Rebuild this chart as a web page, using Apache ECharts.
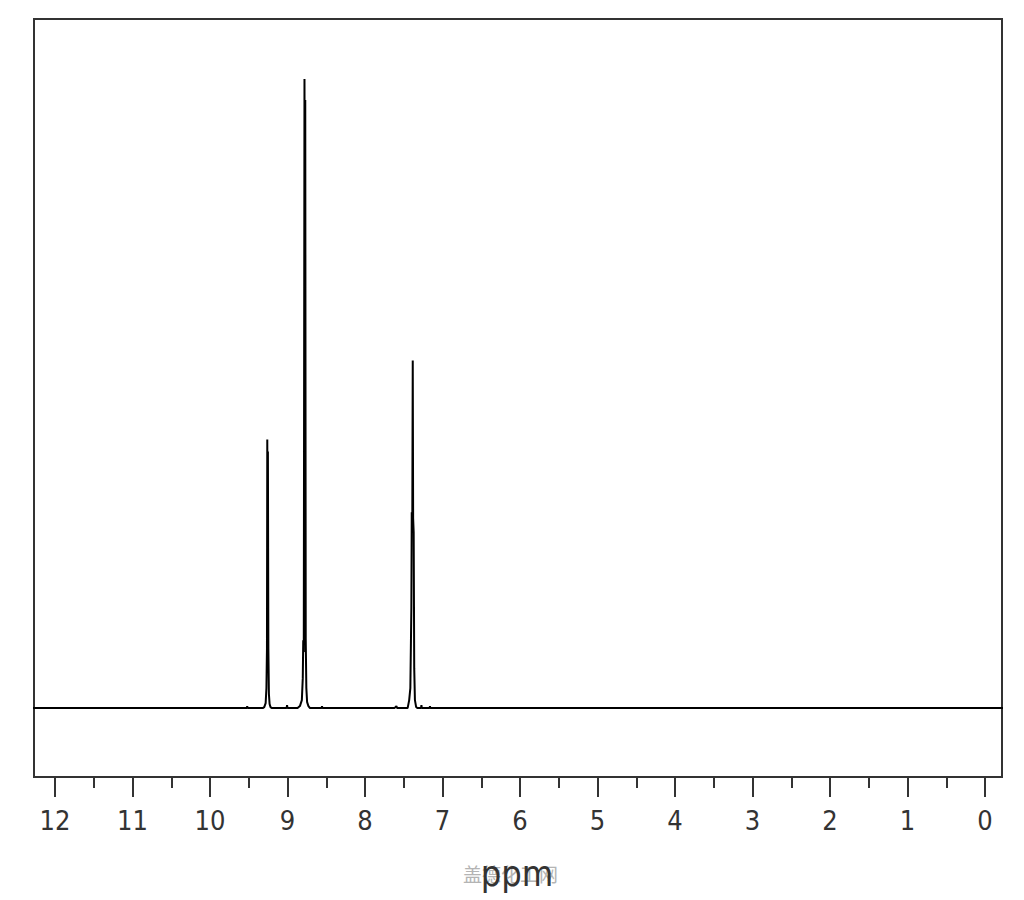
<!DOCTYPE html>
<html><head><meta charset="utf-8">
<script src="https://cdn.jsdelivr.net/npm/echarts@6/dist/echarts.min.js"></script>
<style>html,body{margin:0;padding:0;background:#fff}#c{width:1024px;height:900px}</style>
</head><body><div id="c"></div>
<script>
// Tick positions (ppm)
const majorTicks = [0,1,2,3,4,5,6,7,8,9,10,11,12];
const minorTicks = [0.5,1.5,2.5,3.5,4.5,5.5,6.5,7.5,8.5,9.5,10.5,11.5];
// Spectrum trace: chemical shift (ppm) and intensity (relative)
const ppm = [12.30, 9.60, 9.525, 9.52, 9.515, 9.32, 9.30, 9.282, 9.272, 9.265, 9.261, 9.257, 9.253, 9.247, 9.240, 9.231, 9.22, 9.20,
  9.012, 9.006, 9.000,
  8.87, 8.84, 8.815, 8.803, 8.797, 8.790, 8.781, 8.776, 8.771, 8.765, 8.757, 8.747, 8.73, 8.71,
  8.56, 8.555, 8.55,
  7.62, 7.595, 7.585,
  7.45, 7.43, 7.415, 7.402, 7.397, 7.390, 7.384, 7.379, 7.372, 7.365, 7.356, 7.34, 7.325,
  7.277, 7.272, 7.267, 7.167, 7.162, 7.157, -0.30];
const intensity = [0, 0, 0, 2, 0, 0, 1, 5, 20, 60, 269, 160, 257, 60, 14, 4, 1, 0,
  0, 3, 0,
  0, 2, 8, 30, 68, 56, 630, 420, 609, 70, 20, 6, 2, 0,
  0, 2, 0,
  0, 2, 0,
  0, 8, 20, 100, 196, 185, 348, 190, 176, 40, 8, 1, 0,
  0, 3, 0, 0, 2, 0, 0];
const axisTitle = 'ppm';
const watermark = '盖德化工网';

const trace = ppm.map((p, i) => [p, intensity[i]]);
const digitFont = "'Liberation Sans Narrow', 'DejaVu Sans Condensed', 'Liberation Sans', sans-serif";

const chart = echarts.init(document.getElementById('c'), null, {renderer: 'svg'});
chart.setOption({
  animation: false,
  backgroundColor: '#fff',
  grid: {left: 34, right: 22, top: 19, bottom: 123, show: true, borderColor: '#333', borderWidth: 2, backgroundColor: 'transparent'},
  xAxis: [
    {type: 'value', inverse: true, min: -0.219, max: 12.271, position: 'bottom',
      axisLine: {show: true, onZero: false, lineStyle: {color: '#333', width: 2}},
      axisTick: {show: true, length: 20, customValues: majorTicks, lineStyle: {color: '#333', width: 2}},
      axisLabel: {show: true, customValues: majorTicks, margin: 30, fontSize: 27, color: '#333', fontFamily: digitFont},
      splitLine: {show: false}},
    {type: 'value', inverse: true, min: -0.219, max: 12.271, position: 'bottom',
      axisLine: {show: false, onZero: false},
      axisTick: {show: true, length: 11, customValues: minorTicks, lineStyle: {color: '#333', width: 2}},
      axisLabel: {show: false},
      splitLine: {show: false}}
  ],
  yAxis: {type: 'value', min: -69, max: 690, show: false, splitLine: {show: false}},
  graphic: [
    {type: 'text', left: 463, top: 864, z: 1, style: {text: watermark, fontSize: 19, fill: '#b4b4b4', fontFamily: "'Noto Sans CJK SC', sans-serif"}},
    {type: 'text', x: 517, y: 873, z: 2, style: {text: axisTitle, fontSize: 36, fill: '#333', fontFamily: digitFont, textAlign: 'center', textVerticalAlign: 'middle'}}
  ],
  series: [{
    type: 'line', xAxisIndex: 0, data: trace, showSymbol: false, symbol: 'none',
    lineStyle: {color: '#000', width: 2}, clip: true
  }]
});
</script>
</body></html>
